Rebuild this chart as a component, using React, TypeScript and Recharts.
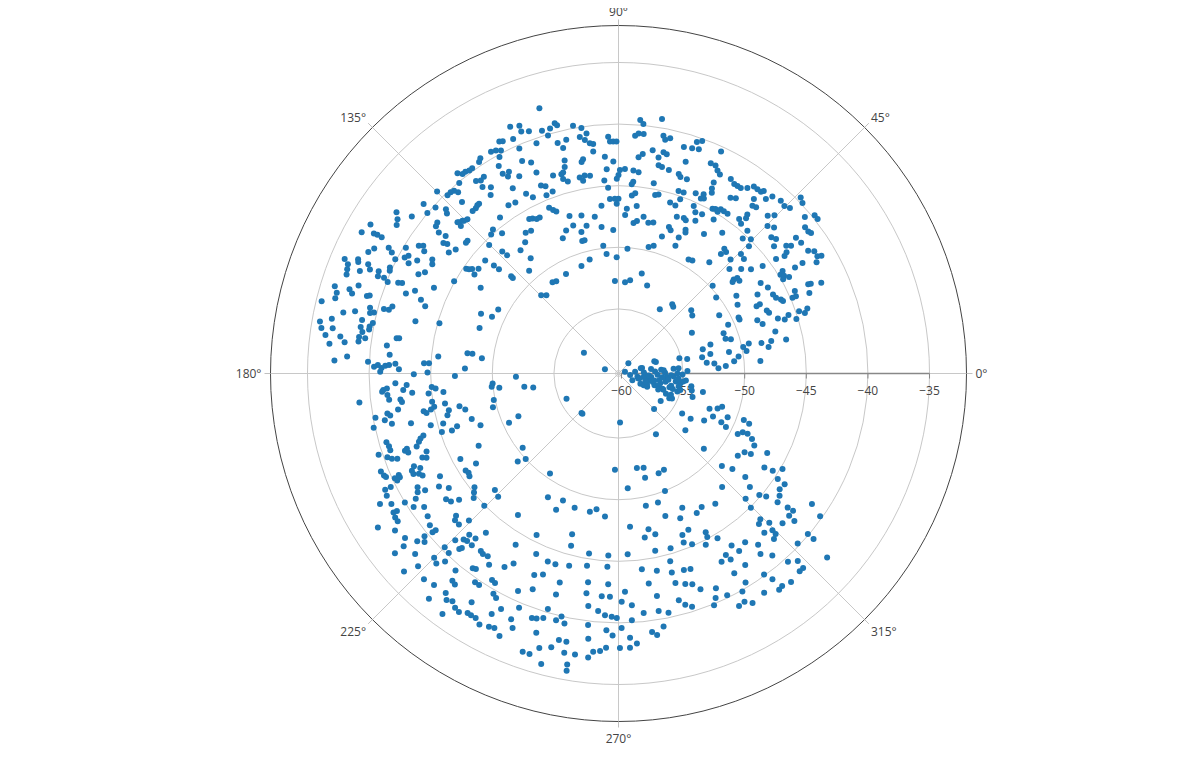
import React from "react";
import {
  RadarChart,
  Radar,
  PolarGrid,
  PolarAngleAxis,
  PolarRadiusAxis,
  ScatterChart,
  Scatter,
  XAxis,
  YAxis,
} from "recharts";

// ---- axis definitions ----
const angleLabels = ["0°", "45°", "90°", "135°", "180°", "225°", "270°", "315°"];
const radialTicks = [-60, -55, -50, -45, -40, -35];
const radialRange: [number, number] = [-60.24, -32.29];

// ---- data: [theta (degrees), r] ----
const northEast: [number, number][] = [
  [85.1,-39.8],[84.3,-40.1],[80.3,-39.5],[86,-41.1],[85.2,-40.9],[84,-40.9],[92.5,-41.2],[92.1,-41.6],[91.3,-41.6],[90.5,-41.6],
  [79.3,-40.8],[78.7,-41.1],[77.6,-40.9],[73.9,-41.3],[71.9,-41.2],[70.3,-41.1],[71.3,-40.6],[70.2,-40.4],[65.2,-40.6],[93.6,-42.8],
  [91.4,-43.2],[84.7,-42.8],[83.7,-42.5],[81.3,-42.1],[79.5,-42.6],[78.5,-42.1],[77.6,-42.2],[72.4,-42.4],[66.3,-41.8],[65,-41.8],
  [64,-42.1],[63,-42.3],[63.5,-43.1],[93.3,-43.8],[89.6,-43.9],[88.2,-43.8],[85.8,-43.9],[84.3,-44.0],[79.1,-43.2],[78.1,-43.3],
  [76.1,-43.4],[73.2,-43.5],[72.5,-43.7],[70.6,-43.7],[94.2,-44.7],[90,-44.3],[90.5,-44.6],[85.6,-44.8],[86,-45.0],[79.5,-44.7],
  [71.8,-44.8],[70.2,-44.8],[66.8,-44.5],[64.8,-44.7],[64.6,-44.3],[63.2,-43.6],[62.7,-43.9],[60,-42.2],[58.6,-42.4],[57.6,-42.4],
  [56.6,-42.4],[55.2,-42.1],[54.1,-41.7],[53,-41.7],[51.9,-41.7],[51.5,-41.5],[49.8,-41.9],[49,-41.4],[46.8,-41.2],[45.3,-41.3],
  [44,-41.1],[44,-39.9],[42.8,-40.1],[38.9,-40.0],[37.8,-40.0],[93.2,-45.3],[92.8,-46.2],[91.2,-46.2],[90,-46.2],[90.6,-46.6],
  [87.1,-47.0],[85.7,-45.9],[84.7,-45.7],[78.4,-45.6],[77.4,-45.5],[73.2,-45.9],[71.3,-46.0],[70.5,-45.4],[65.8,-45.5],[64.5,-45.9],
  [62.3,-45.8],[64,-44.6],[60.3,-45.0],[59.5,-44.9],[58.5,-45.0],[58.1,-44.7],[57,-44.7],[55.7,-44.7],[58.3,-45.7],[57.5,-43.5],
  [56.2,-43.3],[52.2,-42.5],[50.4,-42.9],[51.4,-43.0],[95.8,-46.7],[87.6,-47.5],[83.8,-46.7],[80.9,-47.5],[83.1,-47.9],[84.3,-48.1],
  [78.8,-47.9],[77,-47.8],[69.6,-46.8],[67.2,-46.7],[66.3,-46.8],[63.3,-46.5],[70,-48.0],[71,-47.8],[72.4,-48.7],[65,-47.5],
  [64.6,-47.7],[58.5,-47.1],[53.6,-46.2],[52,-44.5],[51,-43.8],[50.6,-44.1],[50.7,-44.7],[47.9,-44.8],[46.6,-42.8],[45.4,-42.4],
  [44.7,-43.4],[43.2,-43.1],[40,-40.7],[37.4,-42.3],[38.1,-41.2],[36.8,-41.2],[36.1,-41.1],[96.6,-48.4],[92.1,-48.7],[96.8,-49.9],
  [95.7,-50.6],[90.9,-50.9],[85.9,-50.2],[76.6,-49.8],[74.6,-49.6],[66,-49.0],[66.1,-48.3],[58.4,-49.5],[56.8,-49.4],[50.8,-48.7],
  [49.4,-47.6],[49.7,-47.1],[48.5,-47.2],[47.4,-45.5],[45.4,-45.1],[44.3,-45.6],[44.3,-46.5],[42.4,-46.6],[45.5,-47.4],[38.2,-46.7],
  [36.7,-45.8],[41.7,-43.8],[40.5,-43.6],[39.3,-44.1],[35.8,-43.6],[37.3,-43.3],[36.5,-43.0],[35.3,-43.9],[36,-44.6],[35.6,-42.2],
  [32.9,-42.1],[32,-41.7],[30.5,-41.7],[30.1,-41.4],[29.3,-42.0],[31,-43.0],[31,-43.7],[32,-44.7],[31.4,-45.0],[30.6,-44.8],
  [29.5,-44.5],[29.8,-45.0],[43.3,-48.0],[39.2,-48.3],[38.8,-48.0],[37.5,-48.0],[38.7,-48.5],[40.4,-47.3],[25.2,-43.4],[25,-43.2],
  [24.1,-42.4],[22.9,-43.6],[32.5,-46.7],[29.9,-46.4],[29.6,-47.4],[26.1,-47.6],[27.1,-46.3],[25.7,-46.2],[24.5,-45.9],[23.8,-45.8],
  [25.1,-44.6],[23.5,-44.7],[23.5,-45.0],[33.4,-48.9],[37.9,-50.3],[43,-49.9],[57.3,-54.1],[52.2,-53.2],[50.7,-53.3],[41,-52.5],
  [38.2,-52.7],[92.2,-52.8],[85.9,-52.9],[82.9,-52.7],[76.9,-52.0],[72,-52.8],
];

const eastBand: [number, number][] = [
  [12,-52.7],[17.5,-52.5],[6,-52.5],[3,-52.2],[4,-51.6],[11,-51.2],[6,-50.9],[8,-50.5],[12,-50.0],[10,-49.8],
  [13,-49.5],[5,-48.8],[12,-48.5],[10,-48.0],[12,-47.7],[15,-47.2],[11.5,-46.5],[21,-48.3],[19,-48.0],[22,-47.2],
  [23,-47.3],[19,-46.7],[18,-46.2],[19,-45.8],[19,-44.9],[17,-45.3],[18,-44.5],[19,-44.2],[24,-49.6],[25,-49.6],
  [24,-50.6],[21,-51.2],[18,-51.2],[17,-50.8],[30,-50.9],[30,-49.2],[26,-47.9],[29,-53.5],[16,-53.2],[11,-53.4],
  [7,-53.1],[19,-57.2],[17,-57.1],[5,-56.8],[4,-56.6],[5,-55.8],[5,-55.4],[14,-55.2],[12,-54.6],[13,-58.4],
  [2,-58.2],
];

const centerCluster: [number, number][] = [
  [46,-59.1],[6,-58.9],[350,-58.7],[346,-58.6],[13,-58.3],[357,-58.1],[350,-57.9],[348,-57.7],[354,-57.6],[346,-57.4],
  [342,-57.2],[3,-57.3],[358,-57.1],[351,-56.9],[347,-56.8],[341,-56.5],[340,-56.4],[350,-56.4],[356,-56.3],[353,-56.2],
  [347,-55.9],[344,-55.7],[357,-55.8],[352,-55.6],[0,-55.5],[355,-55.4],[351,-55.2],[359,-55.1],[354,-54.8],[2,-54.7],
  [337,-56.1],[334,-55.7],[335,-55.5],[338,-55.7],[327,-56.2],[343,-55.3],[345,-55.1],[353,-59.3],[16,-59.7],[334,-59.0],
  [335,-58.3],[335,-58.0],[335,-57.7],[350,-54.3],[347,-54.2],[349,-57.3],[355,-56.7],[345,-56.0],[352,-58.2],[358,-56.0],
  [343,-56.9],[348,-55.3],[356,-57.8],[340,-57.8],[353,-55.0],[347,-58.5],[1,-56.5],[8,-57.6],[338,-56.8],[344,-58.0],
];

const northWest: [number, number][] = [
  [106.6,-38.0],[113.7,-38.6],[111.8,-38.8],[111.9,-39.3],[110.3,-39.5],[107.5,-39.8],[106.5,-40.3],[105.6,-39.8],[104.3,-39.5],[103.9,-39.7],
  [100.4,-40.0],[98.6,-40.3],[97.6,-40.8],[99.3,-41.0],[98.2,-41.3],[97.1,-41.6],[96.3,-41.7],[114.2,-39.6],[117.2,-39.3],[116.5,-39.4],
  [118.8,-39.8],[117.8,-40.0],[119.9,-39.7],[122.7,-39.7],[123.4,-39.9],[125.5,-40.0],[127.2,-39.9],[126.3,-40.0],[128,-39.9],[128.8,-39.6],
  [118.8,-40.4],[120,-41.0],[113.8,-40.5],[109.6,-40.6],[104.8,-41.1],[103.8,-41.6],[102.6,-41.0],[99.4,-42.8],[99.9,-43.0],[96.5,-42.3],
  [124.4,-41.1],[125.5,-41.2],[126.5,-41.0],[126.1,-41.7],[124.4,-42.1],[125.6,-42.6],[120.1,-41.7],[118.5,-41.8],[119.3,-42.1],[116.7,-42.5],
  [114.4,-41.5],[112.5,-41.9],[112.2,-42.8],[108.3,-43.5],[106,-43.6],[104.2,-42.6],[104.6,-43.1],[105.4,-43.5],[105.9,-44.0],[104.8,-44.3],
  [101.2,-44.2],[100.4,-44.5],[99.7,-44.1],[98.2,-44.2],[129.9,-40.3],[131.5,-40.8],[132,-40.5],[132.8,-40.4],[133.8,-40.4],[134.9,-39.6],
  [132.4,-41.6],[130,-42.6],[129.4,-42.6],[130.8,-42.7],[131.9,-42.7],[134.4,-42.9],[135.3,-42.8],[136.5,-42.6],[136.9,-42.9],[127.2,-44.5],
  [123.2,-44.1],[121.1,-44.2],[119.7,-43.1],[117.2,-44.0],[115.9,-44.5],[112.4,-43.9],[111.3,-44.1],[112,-44.8],[109.9,-44.7],[112.7,-45.8],
  [111.8,-46.1],[111,-46.3],[119,-46.0],[117.9,-46.2],[120,-45.9],[116.8,-46.2],[107.3,-47.0],[103.2,-47.2],[98.6,-47.5],[102.2,-48.1],
  [107,-47.8],[110.1,-48.0],[104.7,-48.5],[105.3,-49.2],[139,-39.5],[140,-40.2],[137.8,-40.4],[140.2,-41.3],[141.1,-41.4],[136.4,-41.1],
  [137,-41.4],[141.9,-41.9],[141.5,-42.5],[142.9,-43.0],[143.3,-42.7],[144.5,-43.5],[142.7,-43.8],[136.8,-42.5],[135.6,-42.7],[138.7,-44.1],
  [139.4,-44.1],[131.1,-44.9],[132.5,-45.1],[129.7,-45.6],[133.6,-46.7],[133.3,-47.2],[128.5,-47.6],[125.4,-47.3],[127.3,-48.6],[123.4,-46.7],
  [121.5,-46.8],[112.4,-48.5],[104.3,-49.2],[104.2,-50.8],[109,-51.1],[117.8,-51.2],[124,-51.3],[125.9,-51.2],[134.6,-51.4],[132.7,-51.7],
  [131,-49.3],[137.8,-48.6],[137.9,-48.8],[138.9,-47.5],[139.1,-47.0],[139.7,-46.2],[135.2,-45.6],[145.5,-45.4],[145.1,-45.6],[144.5,-45.8],
  [145.5,-46.2],[143.2,-46.2],[148.1,-47.2],[150.7,-45.1],[156.5,-48.2],[161.9,-48.5],[155.8,-49.1],[152,-49.3],[172.4,-48.0],[172.3,-48.4],
  [173.6,-49.2],[178.1,-47.9],[180.9,-47.1],[181.8,-52.0],[149,-57.0],[163,-59.1],
  [151.2,-36.7],[149,-37.0],[150.2,-37.6],[150.1,-37.9],[150.1,-38.3],[144,-38.2],[145.1,-38.6],[146.2,-38.8],[142.8,-39.4],[157.3,-36.4],
  [158,-36.8],[159,-36.9],[160,-37.0],[156.3,-37.4],[156.8,-37.5],[158.4,-37.9],[154.1,-37.9],[152.9,-38.2],[156.4,-38.3],[157.3,-38.6],
  [156.9,-39.3],[158,-39.4],[157.8,-39.9],[158.4,-40.3],[151.3,-39.2],[151.9,-39.6],[155.1,-40.0],[155.8,-40.1],[152.9,-40.1],[157.3,-41.4],
  [149.4,-40.4],[150.7,-40.9],[151.5,-40.7],[152.3,-41.2],[150.7,-41.7],[147.4,-41.2],[146.8,-41.5],[147.8,-41.8],[153.6,-42.3],[152.4,-42.7],
  [148.5,-42.7],[149.6,-42.9],[155.1,-43.9],[162.9,-36.4],[164,-36.7],[165.1,-36.7],[166.3,-35.7],[162.6,-37.6],[163.3,-37.9],[161.3,-38.2],
  [162.9,-39.1],[162.6,-39.3],[165.2,-39.6],[166,-40.0],[166.3,-39.7],[164.6,-40.7],[164.5,-41.1],[163.5,-41.3],[157.6,-41.1],[159.4,-42.0],
  [157.9,-42.6],[159.5,-43.3],[160.8,-43.8],[170.1,-35.9],[171.3,-36.1],[172.5,-36.5],[174.1,-36.9],[169.2,-36.8],[171,-37.0],[167.5,-37.6],
  [172.4,-37.7],[173.5,-38.1],[166.7,-38.5],[168.2,-39.2],[169.8,-39.2],[170.8,-39.4],[172,-39.2],[173,-39.2],[172.1,-39.7],[169.3,-39.9],
  [168.4,-40.1],[170,-39.9],[173.1,-41.5],[175.3,-41.8],[171,-42.2],[170.9,-42.4],[165.6,-43.4],[164.3,-45.3],[177.4,-37.4],[176.4,-38.4],
  [177.3,-40.1],[178.4,-40.6],[178,-40.9],[179.6,-41.1],[178.7,-41.2],[178.1,-41.5],[177.9,-41.8],[177.5,-42.3],[178.9,-42.6],[180.2,-43.8],
  [176.9,-45.0],[177,-44.6],[179.7,-44.9],[174.6,-45.7],
];

const southWest: [number, number][] = [
  [182.5,-42.3],[183.1,-43.2],[184.4,-42.9],[185.3,-43.6],[184,-41.3],[184.4,-41.2],[183.7,-41.6],[185.3,-41.6],[186.5,-41.7],[186.4,-39.3],
  [190.3,-40.4],[192.5,-40.1],[189.8,-41.4],[190.4,-41.6],[191.3,-41.1],[192.5,-41.6],[189.3,-42.3],[187.5,-42.7],[186.8,-42.6],[193.5,-43.1],
  [186,-44.9],[184.1,-45.2],[184.7,-45.5],[186,-46.1],[188.6,-45.1],[190.2,-45.2],[190.9,-44.9],[191,-44.3],[191.6,-44.5],[195.4,-44.6],
  [189.8,-46.1],[192.2,-46.3],[193.7,-46.1],[195.9,-45.6],[198.3,-45.3],[198.9,-46.1],[198.1,-46.6],[191.6,-47.2],[193.2,-47.6],[197.2,-47.9],
  [200.6,-48.4],[184.5,-50.1],[186,-50.0],[186.8,-50.6],[192,-50.0],[195,-49.8],[188,-52.6],[189.3,-53.3],[204.2,-50.6],[203.1,-51.5],
  [205.9,-55.6],[226.8,-55.9],[228.1,-55.9],[197.6,-43.8],[198.2,-43.5],[198.9,-43.3],[199.9,-43.0],[199.6,-42.2],[199.9,-42.0],[200.6,-42.2],
  [196.5,-40.8],[197.6,-40.9],[198.6,-40.9],[199.9,-40.5],[200.6,-40.8],[201.1,-41.2],[198.7,-39.9],[202.1,-43.6],[203.2,-43.1],[203.7,-43.4],
  [208.4,-45.8],[207.3,-47.6],[212.3,-46.7],[212.4,-45.7],[213.5,-45.8],[214.6,-45.7],[209.9,-43.7],[204.4,-42.2],[205.2,-41.9],[206.1,-41.9],
  [206.7,-42.3],[207.5,-42.5],[205.5,-42.6],[204.8,-40.8],[205.4,-40.8],[205.1,-40.4],[205.8,-40.5],[202.4,-39.6],[203.5,-39.7],[204,-39.8],
  [206.5,-39.8],[206.5,-39.3],[207.8,-39.2],[209.5,-41.7],[210.6,-41.5],[211.7,-41.1],[211.1,-42.1],[212.2,-43.2],[214,-43.8],[216.1,-43.1],
  [217.4,-43.3],[218.4,-43.9],[218.3,-45.5],[219.5,-45.2],[220.7,-44.9],[223.3,-46.6],[225.7,-46.4],[224.6,-45.1],[224.5,-43.4],[221.2,-42.9],
  [221.9,-42.6],[223.4,-42.6],[218.8,-40.8],[220.5,-40.6],[220.6,-40.9],[216.8,-41.1],[214.5,-41.3],[213.1,-40.6],[211.8,-39.3],[211.7,-39.0],
  [212.8,-38.9],[213.8,-38.9],[208.7,-38.4],[209.9,-39.2],[211.1,-40.2],[212.6,-37.3],[215.1,-38.3],[217.6,-38.6],[218.8,-38.1],[218.8,-37.2],
  [221.6,-38.4],[223.9,-37.9],[222.7,-36.8],[219.8,-39.2],[220,-39.9],[221,-39.6],[225,-40.5],[227.3,-39.7],[226.6,-40.4],[225.6,-41.5],
  [227.8,-41.2],[228.1,-41.4],[227,-42.0],[227.9,-42.1],[227.2,-42.6],[229.5,-42.1],[229.1,-42.7],[230.2,-43.6],[232.2,-42.2],[233.1,-42.1],
  [234.4,-42.2],[235.9,-41.7],[233.2,-40.7],[233.9,-40.8],[230.4,-39.7],[231.3,-38.9],[232.2,-38.8],[225,-39.3],[226.2,-39.1],[226.6,-37.5],
  [228.9,-37.7],[229.9,-36.6],[231.8,-37.8],[232.8,-37.4],[233.9,-37.6],[235.1,-37.3],[236.2,-37.2],[233.8,-36.3],[237.8,-37.5],[238.6,-37.5],
  [239.7,-37.5],[241,-37.2],[237.3,-38.4],[235.5,-39.9],[236.6,-39.9],[238.5,-40.8],[239.5,-40.7],[240.4,-39.9],[241.4,-39.7],[243.5,-39.1],
  [242.2,-38.4],[242.9,-37.4],[244,-37.5],[245.6,-37.1],[246.4,-38.7],[247.4,-38.1],[245.2,-41.0],[247,-39.8],[250.5,-39.4],[251.5,-39.5],
  [252.9,-39.7],[253.3,-40.5],[255.8,-39.8],[256.8,-40.2],[257.8,-39.7],[257.4,-38.3],[259,-38.3],[252.4,-38.4],[253.9,-37.3],[251,-36.6],
  [252.4,-36.6],[255.1,-36.1],[256.2,-37.6],[260.1,-36.0],[260,-36.5],[259,-37.4],[261.2,-37.4],[263.9,-37.3],[264.8,-37.8],[266.2,-37.9],
  [267.4,-38.2],[268.7,-39.2],[267.3,-39.6],[268.4,-40.7],[263.5,-38.8],[263.1,-39.9],[262.6,-41.4],[261.7,-42.4],[265.1,-41.1],[266.8,-40.8],
  [265.7,-42.3],[267.8,-42.3],[267.2,-43.3],[261.7,-43.3],[254.3,-42.8],[254.2,-41.8],[249.4,-43.0],[247.3,-42.7],[249.4,-44.1],[251.7,-44.1],
  [245.5,-44.3],[243.1,-45.7],[253.9,-46.8],[254.6,-45.9],[260.7,-45.6],[266.8,-45.6],[260.7,-44.6],[266.7,-44.7],[255.6,-44.3],[241.1,-42.8],
  [239.5,-42.2],[239,-44.2],[248.3,-41.6],[235.6,-50.5],[240.3,-48.8],[245.4,-48.2],[246.4,-49.1],[251.9,-48.9],[258.3,-48.9],[260.8,-49.2],
  [264.6,-48.7],[234.6,-46.3],[217.8,-50.5],[222.7,-50.1],[221.1,-49.5],[267.9,-52.5],
];

const southEast: [number, number][] = [
  [315,-56.2],[271.8,-56.3],[301.6,-54.5],[327.8,-54.2],[327.9,-53.4],[319.7,-53.2],[331.3,-52.4],[335.5,-51.9],[342.4,-54.0],[347.7,-53.3],
  [342.2,-51.5],[338.8,-52.4],[340.5,-51.8],[338.2,-50.8],[334.6,-51.1],[333.5,-50.6],[333.1,-49.5],[334.7,-49.2],[339.6,-49.5],[339,-49.0],
  [333.9,-48.3],[335,-48.8],[332.1,-47.9],[328,-48.3],[325.4,-48.6],[328.7,-47.8],[331.9,-46.7],[318.6,-51.1],[318.2,-49.1],[320,-48.3],
  [320.8,-47.1],[319.2,-46.3],[327.2,-46.3],[327.8,-45.6],[329.8,-45.0],[326.5,-44.9],[324.3,-44.3],[326.3,-44.2],[321,-43.8],[322.8,-44.0],
  [319.2,-45.3],[320.2,-44.8],[312.4,-47.9],[315.4,-45.9],[314.6,-45.1],[314.2,-43.9],[313,-43.7],[312.5,-42.9],[315.3,-43.2],[314.5,-42.6],
  [314.4,-42.2],[313.2,-42.0],[317.6,-42.4],[321.6,-42.9],[321.8,-42.4],[320.2,-42.4],[320,-41.8],[316.5,-40.4],[326,-41.5],[324.7,-40.4],
  [319.7,-40.3],[319.7,-39.7],[318.6,-37.9],[313.7,-39.4],[312.5,-38.7],[313.5,-38.7],[312,-39.9],[309.6,-38.5],[307.6,-38.7],[306.6,-38.6],
  [306.8,-39.6],[305.9,-40.3],[303.6,-39.1],[300.3,-38.9],[297.4,-39.2],[298.9,-39.3],[299.6,-40.1],[301.3,-40.6],[300.1,-41.7],[300.6,-43.3],
  [301.1,-42.8],[298.7,-43.0],[304.2,-43.0],[303.3,-43.7],[306.9,-43.3],[303.5,-41.8],[309.2,-42.5],[308.2,-41.8],[310.2,-41.1],[306.6,-47.2],
  [301.9,-47.6],[299.3,-47.4],[298.8,-45.7],[298.5,-45.3],[297,-44.8],[301,-44.8],[293.3,-45.3],[291.6,-46.3],[291.1,-45.7],[294.1,-46.5],
  [295.4,-48.3],[293.1,-47.6],[291.6,-50.1],[287,-49.4],[281.7,-49.4],[288.2,-48.2],[286.6,-45.6],[281.7,-45.7],[281,-44.1],[285.4,-44.6],
  [285,-43.7],[288.4,-43.6],[290.2,-43.5],[287.6,-42.5],[289.3,-42.3],[285.2,-42.8],[278.2,-43.2],[276.8,-44.4],[284.9,-41.4],[286.1,-40.9],
  [287.5,-40.6],[279.8,-42.1],[279.6,-40.9],[281.8,-40.6],[280.1,-39.6],[278.4,-39.0],[277.4,-39.3],[273.9,-38.5],[272.4,-38.2],[270.3,-38.2],
  [272.5,-39.0],[270.7,-39.8],[269.6,-40.6],[273.1,-40.4],[276,-40.9],[273.3,-41.6],[271.7,-42.7],[270.8,-41.9],[294.4,-41.3],[293.4,-40.6],
  [292.4,-40.1],[290.8,-41.7],[296.1,-40.4],[281,-52.5],[284.9,-52.4],[295.3,-51.7],[291.9,-51.6],[284.3,-51.6],[274.6,-51.0],[274.3,-47.9],
  [280.9,-47.5],[282.9,-47.0],[279.1,-46.9],[272.9,-45.7],
];

const allPoints: [number, number][] = [
  ...centerCluster,
  ...eastBand,
  ...northEast,
  ...northWest,
  ...southWest,
  ...southEast,
];

// ---- layout (the chart covers the whole 1188x762 page) ----
const W = 1188;
const H = 762;
const CX = 618.5;
const CY = 373.5;
const R = 348;
const FONT = "'Open Sans', verdana, arial, sans-serif";

const [rMin, rMax] = radialRange;
const scatterData = allPoints.map(([theta, r]) => {
  const f = (r - rMin) / (rMax - rMin);
  const a = (theta * Math.PI) / 180;
  return { x: f * Math.cos(a), y: f * Math.sin(a) };
});

const radarData = angleLabels.map((label) => ({ angle: label, v: rMin }));

const AngleTick = (props: any) => {
  const { payload } = props;
  const label = String(payload?.value ?? "");
  const deg = parseFloat(label);
  const a = (deg * Math.PI) / 180;
  const c = Math.cos(a);
  const s = Math.sin(a);
  const rr = R + 9;
  const px = CX + rr * c;
  const py = CY - rr * s;
  const anchor = c > 0.01 ? "start" : c < -0.01 ? "end" : "middle";
  const yy = s >= 0 ? py - s * 5 : py - s * 8;
  return (
    <text
      x={px}
      y={yy}
      textAnchor={anchor}
      dominantBaseline="central"
      fontFamily={FONT}
      fontSize={12}
      fill="#444"
    >
      {label}
    </text>
  );
};

const RadialTick = (props: any) => {
  const { x, y, payload } = props;
  const v = Number(payload.value);
  const label = v < 0 ? "\u2212" + Math.abs(v) : String(v);
  return (
    <g>
      <line x1={x} y1={y} x2={x} y2={y + 5} stroke="#888" strokeWidth={1} />
      <text
        x={x}
        y={y + 17}
        textAnchor="middle"
        dominantBaseline="central"
        fontFamily={FONT}
        fontSize={12}
        fill="#444"
      >
        {label}
      </text>
    </g>
  );
};

const Dot = (props: any) => {
  const { cx, cy } = props;
  if (cx == null || cy == null) return null;
  return <circle cx={cx} cy={cy} r={3} fill="#1f77b4" />;
};

export default function App() {
  return (
    <div
      style={{
        position: "relative",
        width: W,
        height: H,
        marginTop: -8,
        marginLeft: -8,
        background: "#fff",
      }}
    >
      <div style={{ position: "absolute", left: 0, top: 0 }}>
        <RadarChart
          width={W}
          height={H}
          data={radarData}
          cx={CX}
          cy={CY}
          outerRadius={R}
          startAngle={0}
          endAngle={360}
          margin={{ top: 0, right: 0, bottom: 0, left: 0 }}
        >
          <PolarGrid gridType="circle" stroke="#c8c8c8" strokeWidth={1} />
          <PolarAngleAxis
            dataKey="angle"
            axisLineType="circle"
            axisLine={{ stroke: "#444", strokeWidth: 1 }}
            tickLine={{ stroke: "#c0c0c0" }}
            tickSize={6}
            tick={AngleTick}
          />
          <PolarRadiusAxis
            angle={0}
            type="number"
            domain={radialRange}
            ticks={radialTicks}
            allowDataOverflow
            axisLine={{ stroke: "#888", strokeWidth: 1.5 }}
            tick={RadialTick}
          />
          <Radar
            dataKey="v"
            stroke="none"
            fill="none"
            dot={false}
            isAnimationActive={false}
          />
        </RadarChart>
      </div>
      <div style={{ position: "absolute", left: 0, top: 0 }}>
        <ScatterChart
          width={W}
          height={H}
          margin={{
            top: CY - R,
            left: CX - R,
            right: W - CX - R,
            bottom: H - CY - R,
          }}
        >
          <XAxis type="number" dataKey="x" domain={[-1, 1]} hide allowDataOverflow height={0} />
          <YAxis type="number" dataKey="y" domain={[-1, 1]} hide allowDataOverflow width={0} />
          <Scatter data={scatterData} shape={Dot} isAnimationActive={false} />
        </ScatterChart>
      </div>
    </div>
  );
}
